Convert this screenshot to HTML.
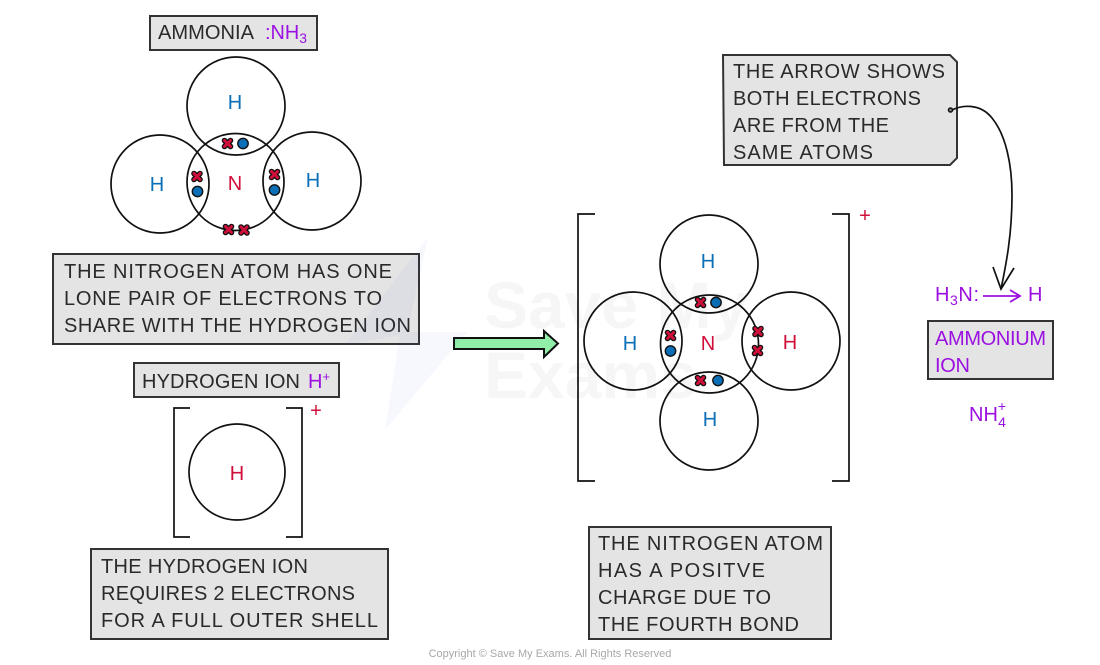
<!DOCTYPE html>
<html><head><meta charset="utf-8"><style>
html,body{margin:0;padding:0;background:#fff}
svg{display:block}
text{font-family:"Liberation Sans",sans-serif}
.t{font-size:20px;fill:#2a2a2a}
.h{font-size:20px;fill:#0b6fb8}
.r{font-size:20px;fill:#d0103a}
.p{font-size:20px;fill:#9b10e0}
.box{fill:#e4e4e4;stroke:#333;stroke-width:2}
.c{fill:none;stroke:#111;stroke-width:1.7}
.b{fill:#0b6fb8;stroke:#111;stroke-width:1.4}
.x{stroke:#111;stroke-width:5.600;stroke-linecap:round}
.y{stroke:#d0103a;stroke-width:3;stroke-linecap:round}
</style></head><body>
<svg width="1100" height="665" viewBox="0 0 1100 665" xmlns="http://www.w3.org/2000/svg">
<defs>
<g id="x"><path class="x" d="M-3-3 3 3M3-3-3 3"/><path class="y" d="M-3-3 3 3M3-3-3 3"/></g>
</defs>

<!-- Ammonia -->
<rect class="box" x="150" y="16" width="167" height="34"/>
<text class="t" x="158" y="39" textLength="96" lengthAdjust="spacingAndGlyphs">AMMONIA</text>
<text class="p" x="265" y="39" textLength="42" lengthAdjust="spacingAndGlyphs">:NH<tspan font-size="14" dy="4">3</tspan></text>
<circle class="c" cx="236" cy="106" r="49"/>
<circle class="c" cx="160" cy="184" r="49"/>
<circle class="c" cx="312" cy="181" r="49"/>
<circle class="c" cx="235.500" cy="182" r="48.500"/>
<text class="h" x="235" y="109" text-anchor="middle">H</text>
<text class="h" x="157" y="191" text-anchor="middle">H</text>
<text class="h" x="313" y="187" text-anchor="middle">H</text>
<text class="r" x="235" y="190" text-anchor="middle">N</text>
<use href="#x" x="227.500" y="143.500"/><circle class="b" cx="243" cy="143.500" r="5.200"/>
<use href="#x" x="197" y="176.500"/><circle class="b" cx="197.500" cy="191.500" r="5.200"/>
<use href="#x" x="274.500" y="174.500"/><circle class="b" cx="274.500" cy="190" r="5.200"/>
<use href="#x" x="228.500" y="229.500"/><use href="#x" x="244" y="230"/>

<rect class="box" x="53" y="254" width="366" height="90"/>
<text class="t" x="64" y="278" textLength="328">THE NITROGEN ATOM HAS ONE</text>
<text class="t" x="64" y="305" textLength="318">LONE PAIR OF ELECTRONS TO</text>
<text class="t" x="64" y="332" textLength="347">SHARE WITH THE HYDROGEN ION</text>

<!-- Hydrogen ion -->
<rect class="box" x="134" y="363" width="205" height="34"/>
<text class="t" x="142" y="388" textLength="158">HYDROGEN ION</text>
<text class="p" x="308" y="388">H<tspan font-size="13" dy="-7">+</tspan></text>
<path class="c" d="M190 408H174V537H190M286 408H302V537H286"/>
<text x="316" y="417" font-size="20" fill="#d0103a" text-anchor="middle">+</text>
<circle class="c" cx="237" cy="472" r="48"/>
<text class="r" x="237" y="480" text-anchor="middle">H</text>
<rect class="box" x="91" y="549" width="297" height="90"/>
<text class="t" x="101" y="573" textLength="207">THE HYDROGEN ION</text>
<text class="t" x="101" y="600" textLength="254">REQUIRES 2 ELECTRONS</text>
<text class="t" x="101" y="627" textLength="277">FOR A FULL OUTER SHELL</text>

<!-- Arrow -->
<path d="M454 338H544V331L558 343.500 544 357V349H454Z" fill="#90eea8" stroke="#111" stroke-width="2"/>

<!-- Ammonium -->
<path class="c" d="M595 214H578V481H595M832 214H849V481H832"/>
<text x="865" y="222" font-size="20" fill="#d0103a" text-anchor="middle">+</text>
<circle class="c" cx="709" cy="264" r="49"/>
<circle class="c" cx="633" cy="341" r="49"/>
<circle class="c" cx="791" cy="341" r="49"/>
<circle class="c" cx="709" cy="421" r="49"/>
<circle class="c" cx="709.500" cy="344" r="49"/>
<text class="h" x="708" y="268" text-anchor="middle">H</text>
<text class="h" x="630" y="350" text-anchor="middle">H</text>
<text class="r" x="790" y="349" text-anchor="middle">H</text>
<text class="h" x="710" y="426" text-anchor="middle">H</text>
<text class="r" x="708" y="350" text-anchor="middle">N</text>
<use href="#x" x="700.500" y="302.500"/><circle class="b" cx="716" cy="302.500" r="5.200"/>
<use href="#x" x="670.500" y="335.500"/><circle class="b" cx="670.500" cy="351" r="5.200"/>
<use href="#x" x="758" y="331.500"/><use href="#x" x="757.500" y="350.500"/>
<use href="#x" x="700.500" y="380.500"/><circle class="b" cx="718" cy="380.500" r="5.200"/>

<rect class="box" x="589" y="527" width="242" height="112"/>
<text class="t" x="598" y="550" textLength="225">THE NITROGEN ATOM</text>
<text class="t" x="598" y="577" textLength="167">HAS A POSITVE</text>
<text class="t" x="598" y="604" textLength="173">CHARGE DUE TO</text>
<text class="t" x="598" y="631" textLength="201">THE FOURTH BOND</text>

<!-- Note -->
<path class="box" d="M723 55H950L957 62V158L950 165H724Z"/>
<text class="t" x="733" y="78" textLength="212">THE ARROW SHOWS</text>
<text class="t" x="733" y="105" textLength="188">BOTH ELECTRONS</text>
<text class="t" x="733" y="132" textLength="156">ARE FROM THE</text>
<text class="t" x="733" y="159" textLength="140">SAME ATOMS</text>
<circle cx="950.500" cy="110" r="2" fill="#888" stroke="#111" stroke-width="1.500"/>
<path class="c" d="M952 110C962 105 980 103 992 118 1006 135 1012 165 1012 195 1012 235 1006 265 1001 289"/>
<path class="c" d="M993 267 1001 289 1014 268"/>

<!-- H3N -->
<text class="p" x="935" y="301" textLength="44">H<tspan font-size="14" dy="4">3</tspan><tspan dy="-4">N:</tspan></text>
<path d="M983 296H1020M1010 290 1020 296 1010 302" fill="none" stroke="#9b10e0" stroke-width="1.800"/>
<text class="p" x="1028" y="301">H</text>
<rect class="box" x="928" y="321" width="125" height="58"/>
<text class="p" x="935" y="345" textLength="111">AMMONIUM</text>
<text class="p" x="935" y="372" textLength="35">ION</text>
<text class="p" x="969" y="421">NH</text>
<text x="1002" y="411" font-size="14" fill="#9b10e0" text-anchor="middle">+</text>
<text x="1002" y="427" font-size="14" fill="#9b10e0" text-anchor="middle">4</text>

<text x="550" y="657" font-size="11" fill="#a8a8a8" text-anchor="middle">Copyright © Save My Exams. All Rights Reserved</text>

<!-- watermark -->
<path d="M428 237 345 345 400 335 385 430 467 332 407 332Z" fill="#3c64e6" fill-opacity=".045"/>
<text x="484" y="328" font-size="66" font-weight="bold" fill="#000" fill-opacity=".035">Save My</text>
<text x="484" y="398" font-size="66" font-weight="bold" fill="#000" fill-opacity=".035">Exams</text>
</svg>
</body></html>
